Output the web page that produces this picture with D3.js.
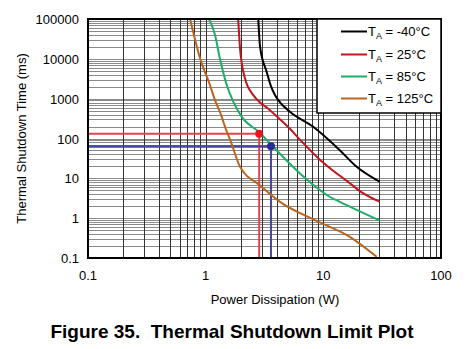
<!DOCTYPE html>
<html><head><meta charset="utf-8">
<script src="https://cdn.jsdelivr.net/npm/d3@7"></script>
<style>body{margin:0;background:#fff}svg{display:block}text{font-family:"Liberation Sans",Arial,sans-serif}</style>
</head><body><svg id="c" width="474" height="349"></svg>
<script>
const xTicks = [0.1, 1, 10, 100];
const yTicks = [0.1, 1, 10, 100, 1000, 10000, 100000];
const seriesNames = ["-40", "25", "85", "125"];
const seriesColors = ["#000000", "#c0161e", "#1fae68", "#b8651e"];
const curveM40 = [[2.8,100000],[2.9,20000],[3.3,4700],[3.6,2000],[3.9,1200],[4.3,800],[5.2,470],[8.2,197],[13.8,51],[19.2,19.5],[30,8.3]];
const curve25 = [[1.89,100000],[1.96,18000],[2.16,3200],[2.54,1230],[2.9,800],[3.3,600],[4.3,300],[5.2,175],[6.3,95],[9.4,29],[11.4,18],[16.8,7.5],[20,5],[30,2.6]];
const curve85 = [[1.07,100000],[1.2,40000],[1.32,10300],[1.51,2200],[1.72,830],[2.0,370],[2.88,140],[3.64,68],[6.33,13.3],[7.2,9.5],[11.4,3.4],[13.8,2.57],[30,0.88]];
const curve125 = [[0.737,100000],[0.896,10300],[1.088,2200],[1.2,920],[1.32,470],[1.51,150],[1.61,95],[1.96,19.5],[2.88,6.75],[4.28,2.57],[8.5,0.89],[16.8,0.34],[28.4,0.107]];
const markRed = [2.85, 132];
const markBlue = [3.59, 64];

const svg = d3.select("#c");
const L = 88, R = 441, T = 19, B = 258;
const x = d3.scaleLog().domain([0.1, 100]).range([L, R]);
const y = d3.scaleLog().domain([0.1, 100000]).range([B, T]);

// grid
const minors = (lo, hi) => { const a = []; for (let d = lo; d < hi; d *= 10) for (let k = 1; k <= 10; k++) a.push(d * k); return a; };
const g = svg.append("g");
g.selectAll("line.h").data(minors(0.1, 100000)).enter().append("line")
  .attr("x1", L).attr("x2", R).attr("y1", d => Math.round(y(d)) + 0.5).attr("y2", d => Math.round(y(d)) + 0.5)
  .attr("stroke", "#8a8a8a").attr("stroke-width", 1);
g.selectAll("line.v").data(minors(0.1, 100)).enter().append("line")
  .attr("y1", T).attr("y2", B).attr("x1", d => Math.round(x(d)) + 0.5).attr("x2", d => Math.round(x(d)) + 0.5)
  .attr("stroke", "#333").attr("stroke-width", 1);

// clip
svg.append("clipPath").attr("id", "clip").append("rect").attr("x", L).attr("y", T).attr("width", R - L).attr("height", B - T);

// marker lines
const mk = svg.append("g").attr("clip-path", "url(#clip)");
[[markRed, "#e0474d"], [markBlue, "#4646a6"]].forEach(([m, lc]) => {
  mk.append("path").attr("d", `M${x(0.1)},${y(m[1])}H${x(m[0])}V${y(0.1)}`).attr("fill", "none").attr("stroke", lc).attr("stroke-width", 2);
});

// curves
const line = d3.line().x(d => x(d[0])).y(d => y(d[1])).curve(d3.curveMonotoneX);
const cg = svg.append("g").attr("clip-path", "url(#clip)");
[curveM40, curve25, curve85, curve125].forEach((c, i) => {
  cg.append("path").attr("d", line(c)).attr("fill", "none").attr("stroke", seriesColors[i]).attr("stroke-width", 2);
});
[[markRed, "#e8161e"], [markBlue, "#2a2a9a"]].forEach(([m, dc]) => {
  svg.append("circle").attr("cx", x(m[0])).attr("cy", y(m[1])).attr("r", 4).attr("fill", dc);
});

// border
svg.append("rect").attr("x", L).attr("y", T).attr("width", R - L).attr("height", B - T).attr("fill", "none").attr("stroke", "#000").attr("stroke-width", 2);

// axes labels
svg.selectAll("text.yt").data(yTicks).enter().append("text")
  .attr("x", 79).attr("y", d => y(d) + 5).attr("text-anchor", "end").attr("font-size", 13).text(d => d3.format("")(d));
svg.selectAll("text.xt").data(xTicks).enter().append("text")
  .attr("x", d => x(d)).attr("y", 280).attr("text-anchor", "middle").attr("font-size", 13).text(d => d);
svg.append("text").attr("x", 275).attr("y", 304).attr("text-anchor", "middle").attr("font-size", 13).text("Power Dissipation (W)");
svg.append("text").attr("transform", "translate(26,138.5) rotate(-90)").attr("text-anchor", "middle").attr("font-size", 13).text("Thermal Shutdown Time (ms)");
svg.append("text").attr("x", 232).attr("y", 338).attr("text-anchor", "middle").attr("font-size", 19).attr("font-weight", "bold").attr("xml:space", "preserve").text("Figure 35.  Thermal Shutdown Limit Plot");

// legend
const lg = svg.append("g");
lg.append("rect").attr("x", 317).attr("y", T).attr("width", R - 317).attr("height", 94).attr("fill", "#fff").attr("stroke", "#000").attr("stroke-width", 1.5);
const rowsY = [31.5, 54.5, 76.5, 98.5];
seriesNames.forEach((n, i) => {
  lg.append("line").attr("x1", 341).attr("x2", 367).attr("y1", rowsY[i]).attr("y2", rowsY[i]).attr("stroke", seriesColors[i]).attr("stroke-width", 2);
  const t = lg.append("text").attr("x", 368).attr("y", rowsY[i] + 4.5).attr("font-size", 13);
  t.append("tspan").text("T");
  t.append("tspan").attr("font-size", 9).attr("dy", 3).text("A");
  t.append("tspan").attr("dy", -3).text(" = " + n + "°C");
});
</script></body></html>
